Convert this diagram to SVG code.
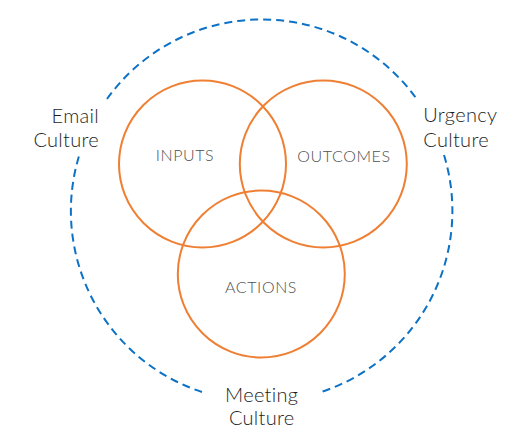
<svg xmlns="http://www.w3.org/2000/svg" width="521" height="437" viewBox="0 0 521 437">
<style>
.ring{fill:none;stroke:#EE7F33;stroke-width:2}
.dash{fill:none;stroke:#0D72C6;stroke-width:2;stroke-dasharray:8 5}
.in{font-family:Lato,"Noto Sans",sans-serif;font-weight:300;font-size:16px;letter-spacing:0.6px;fill:#505050;text-anchor:middle}
.out{font-family:Lato,"Noto Sans",sans-serif;font-weight:300;font-size:20px;letter-spacing:0.3px;fill:#1e1e1e}
</style>
<rect width="521" height="437" fill="#ffffff"/>
<g id="culture-ring">
<path class="dash" d="M107,99 A190.5,190.5 0 0 1 416.7,99"/>
<path class="dash" d="M444,155 A190.5,190.5 0 0 1 321,392"/>
<path class="dash" d="M202,392 A190.5,190.5 0 0 1 79,156"/>
</g>
<g id="inputs"><circle class="ring" cx="202.5" cy="164" r="83.5"/><text class="in" x="185" y="160.7">INPUTS</text></g>
<g id="outcomes"><circle class="ring" cx="323.3" cy="164" r="83.5"/><text class="in" x="344" y="162.3">OUTCOMES</text></g>
<g id="actions"><circle class="ring" cx="261.3" cy="274" r="83.5"/><text class="in" x="261" y="293.3">ACTIONS</text></g>
<g id="email"><text class="out" x="99" y="122.7" text-anchor="end">Email</text><text class="out" x="99" y="146.7" text-anchor="end">Culture</text></g>
<g id="urgency"><text class="out" x="423.3" y="122.3">Urgency</text><text class="out" x="423.3" y="146.7">Culture</text></g>
<g id="meeting"><text class="out" x="261.7" y="402.3" text-anchor="middle">Meeting</text><text class="out" x="261.7" y="425" text-anchor="middle">Culture</text></g>
</svg>
